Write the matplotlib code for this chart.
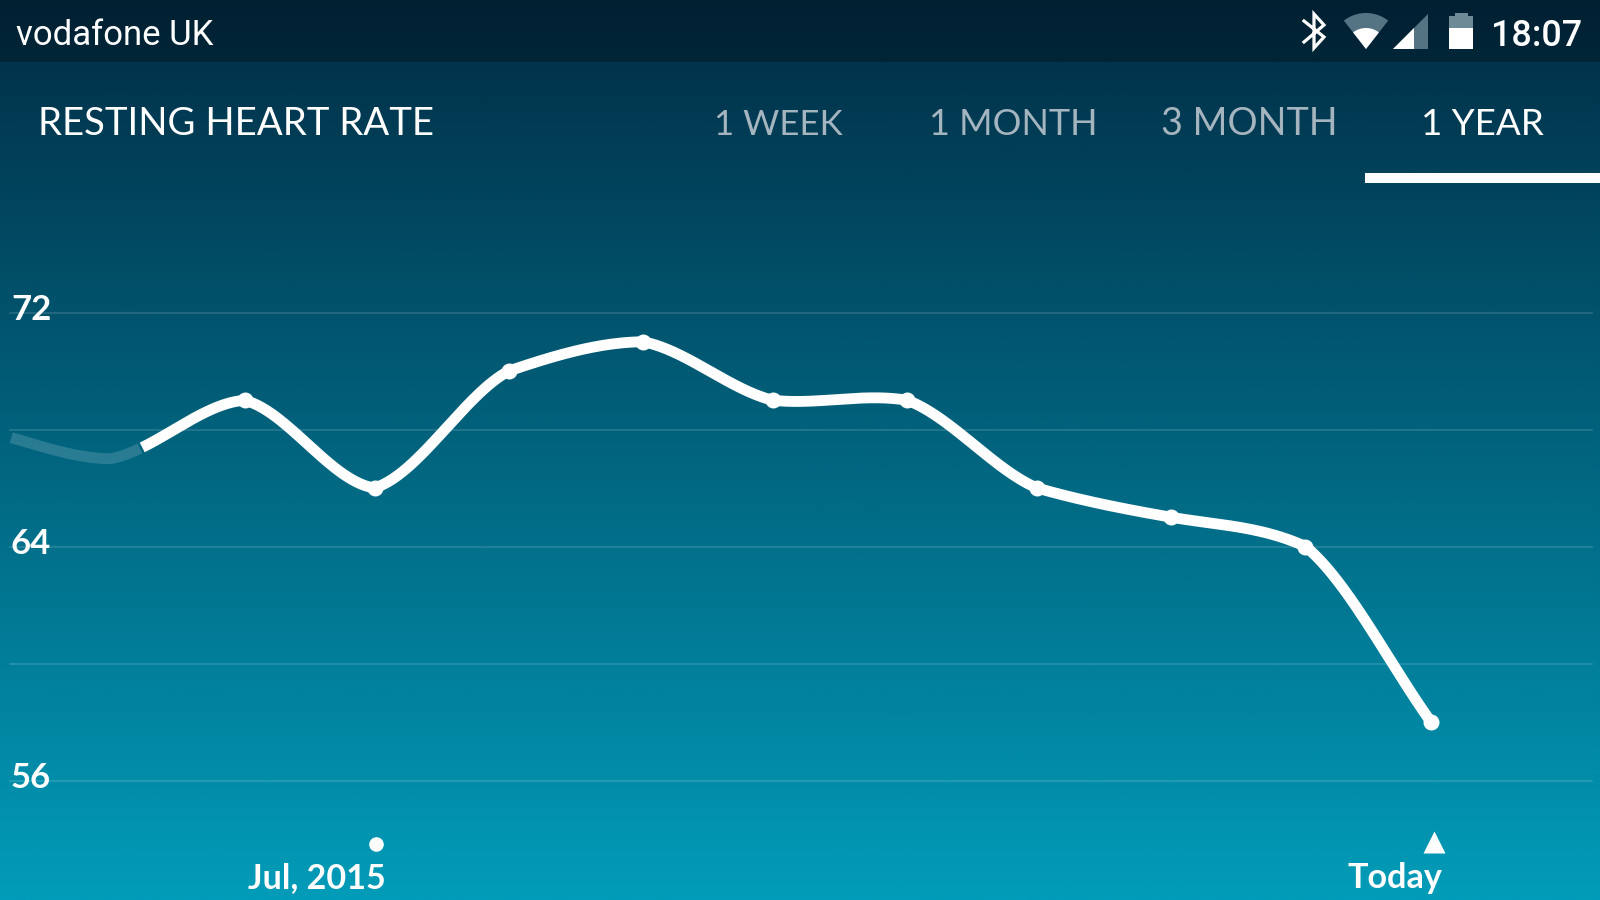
import numpy as np
import matplotlib
matplotlib.use("Agg")
import matplotlib.pyplot as plt
import matplotlib.dates as mdates
from matplotlib.patches import Polygon, Rectangle
from matplotlib.transforms import Affine2D, ScaledTranslation
from matplotlib.colors import LinearSegmentedColormap

# ---- data ----
dates = ["2015-04-01", "2015-05-01", "2015-06-01", "2015-07-01", "2015-08-01", "2015-09-01",
         "2015-10-01", "2015-11-01", "2015-12-01", "2016-01-01", "2016-02-01", "2016-03-01"]
resting_hr = [68, 67, 69, 66, 70, 71, 69, 69, 66, 65, 64, 58]
hidden_until = "2015-05-08"      # the line fades out left of this date
view_start = "2015-04-08"
grid_values = [56, 60, 64, 68, 72]
labelled_values = [56, 64, 72]
x_tick_dates = ["2015-07-01", "2016-03-01"]
x_tick_labels = ["Jul, 2015", "Today"]
tabs = ["1 WEEK", "1 MONTH", "3 MONTH", "1 YEAR"]
title = "RESTING HEART RATE"
carrier = "vodafone UK"
clock = "18:07"

W, H = 1600, 900
PX_PER_DAY = 4.33
PX_PER_UNIT = 29.25
GRAD_TOP = np.array([1, 44, 68]) / 255
GRAD_BOT = np.array([1, 156, 185]) / 255

fig = plt.figure(figsize=(16, 9), dpi=100)
ax = fig.add_axes([0, 0, 1, 1])
for s in ax.spines.values():
    s.set_visible(False)

x = mdates.date2num(np.array(dates, dtype="datetime64[D]"))
y = np.array(resting_hr, float)
jul = mdates.date2num(np.datetime64("2015-07-01"))
xlim = (jul - 374.5 / PX_PER_DAY, jul + (W - 374.5) / PX_PER_DAY)
ylim = (56 - (H - 780.5) / PX_PER_UNIT, 72 + 312.5 / PX_PER_UNIT)

# background gradient
cmap = LinearSegmentedColormap.from_list("bg", [GRAD_TOP, GRAD_BOT])
ax.imshow(np.linspace(0, 1, 512)[:, None], cmap=cmap, aspect="auto",
          extent=(xlim[0], xlim[1], ylim[0], ylim[1]), origin="upper", zorder=0)
ax.set_xlim(xlim)
ax.set_ylim(ylim)

# pixel helper for the app chrome (origin top-left)
px = Affine2D().scale(1 / W, -1 / H).translate(0, 1) + fig.transFigure

# status bar
ax.add_patch(Rectangle((0, 0), W, 62, transform=px, fc="black", alpha=0.26, ec="none", zorder=1))

# grid
for v in grid_values:
    ax.axhline(v, xmin=10 / W, xmax=1592 / W, color="white", alpha=0.16, lw=1.1, zorder=2)

# smooth curve through the monthly values (slightly different tangent on each side of a point)
A, B = 0.5, 0.3
slopes = np.diff(y) / np.diff(x)
cat = (y[2:] - y[:-2]) / (x[2:] - x[:-2])
t_out = np.r_[slopes[0], A * cat + B * slopes[1:]]
t_in = np.r_[A * cat + B * slopes[:-1], slopes[-1]]
cx, cy = [], []
for i in range(len(x) - 1):
    h = x[i + 1] - x[i]
    s = np.linspace(0, 1, 60)
    p = ((2 * s**3 - 3 * s**2 + 1) * y[i] + (s**3 - 2 * s**2 + s) * h * t_out[i]
         + (-2 * s**3 + 3 * s**2) * y[i + 1] + (s**3 - s**2) * h * t_in[i])
    cx.append(x[i] + s * h)
    cy.append(p)
cx, cy = np.concatenate(cx), np.concatenate(cy)

cut = mdates.date2num(np.datetime64(hidden_until))
start = mdates.date2num(np.datetime64(view_start))
faded = (cx >= start) & (cx <= cut)
solid = cx >= cut
LW = 7.8
ax.plot(cx[faded], cy[faded], color="white", alpha=0.16, lw=LW, solid_capstyle="butt", zorder=3)
ax.plot(cx[solid], cy[solid], color="white", lw=LW, solid_capstyle="butt", zorder=4)
ax.plot(x[2:], y[2:], ls="none", marker="o", ms=11.5, mfc="white", mec="none", zorder=5)

# axis ticks / labels drawn inside the plot
ax.set_yticks(labelled_values, [str(v) for v in labelled_values])
tick_dates = mdates.date2num(np.array(x_tick_dates, dtype="datetime64[D]"))
ax.set_xticks(tick_dates, x_tick_labels)
ax.tick_params(axis="both", length=0, pad=0, colors="white")
for lab in ax.get_yticklabels():
    lab.set_fontfamily("Lato")
    lab.set_fontweight("bold")
    lab.set_fontsize(25)
    lab.set_ha("left")
    lab.set_transform(lab.get_transform() + ScaledTranslation(11 / 100, 6 / 100, fig.dpi_scale_trans))
    lab.set_zorder(6)
for lab in ax.get_xticklabels():
    lab.set_fontfamily("Lato")
    lab.set_fontweight("bold")
    lab.set_fontsize(24.6)
    lab.set_ha("right")
    lab.set_va("baseline")
    lab.set_transform(lab.get_transform() + ScaledTranslation(11 / 100, 12 / 100, fig.dpi_scale_trans))
ax.set_axisbelow(False)
for lab in ax.get_yticklabels() + ax.get_xticklabels():
    lab.set_clip_on(False)

# month markers under the chart
mt = ax.get_xaxis_transform()
ax.plot([tick_dates[0] + 0.3], [1 - 843.5 / H], transform=mt, ls="none", marker="o", ms=10.5,
        mfc="white", mec="none", zorder=5)
ax.plot([tick_dates[1] + 0.7], [1 - 842 / H], transform=mt, ls="none", marker="^", ms=16,
        mfc="white", mec="none", zorder=5)

# header text
ax.text(38, 135, title, transform=px, family="Lato", fontsize=27.6, color="white", zorder=6)
tab_x = [714, 929, 1161, 1421]
tab_c = ["#a5b5bf", "#a5b5bf", "#a5b5bf", "white"]
tab_s = [25.1, 25.9, 27.1, 26.5]
for tx, lab, c, fs in zip(tab_x, tabs, tab_c, tab_s):
    ax.text(tx, 135, lab, transform=px, family="Lato", fontsize=fs, color=c, zorder=6)
ax.add_patch(Rectangle((1365, 172.5), W - 1365, 10, transform=px, fc="white", ec="none", zorder=6))

# status bar contents
ax.text(16, 45, carrier, transform=px, family="Roboto", fontsize=25, color="white", zorder=6)
ax.text(1491, 46, clock, transform=px, family="Roboto", fontsize=25.8, fontweight="medium",
        color="white", zorder=6)
ax.plot([1304, 1324, 1314, 1314, 1324, 1304], [21, 37, 48, 14, 25, 42], transform=px,
        color="white", lw=2.3, solid_joinstyle="miter", zorder=6)


def wedge(r):
    a = np.radians(np.linspace(52, 128, 30))
    pts = np.column_stack([1366 + r * np.cos(a), 49 - r * np.sin(a)])
    return np.vstack([[1366, 49], pts])


GREY = "#547484"
ax.add_patch(Polygon(wedge(36), transform=px, fc=GREY, ec="none", zorder=6))
ax.add_patch(Polygon(wedge(21), transform=px, fc="white", ec="none", zorder=7))
ax.add_patch(Polygon([(1393, 49), (1428, 49), (1428, 14)], transform=px, fc=GREY, ec="none", zorder=6))
ax.add_patch(Polygon([(1393, 49), (1414, 49), (1414, 28)], transform=px, fc="white", ec="none", zorder=7))
ax.add_patch(Rectangle((1449, 16), 24, 33, transform=px, fc="#6f8a97", ec="none", zorder=6))
ax.add_patch(Rectangle((1455, 12.5), 13, 4, transform=px, fc="#6f8a97", ec="none", zorder=6))
ax.add_patch(Rectangle((1449, 28), 24, 21, transform=px, fc="white", ec="none", zorder=7))

fig.savefig("out.png", dpi=100)
